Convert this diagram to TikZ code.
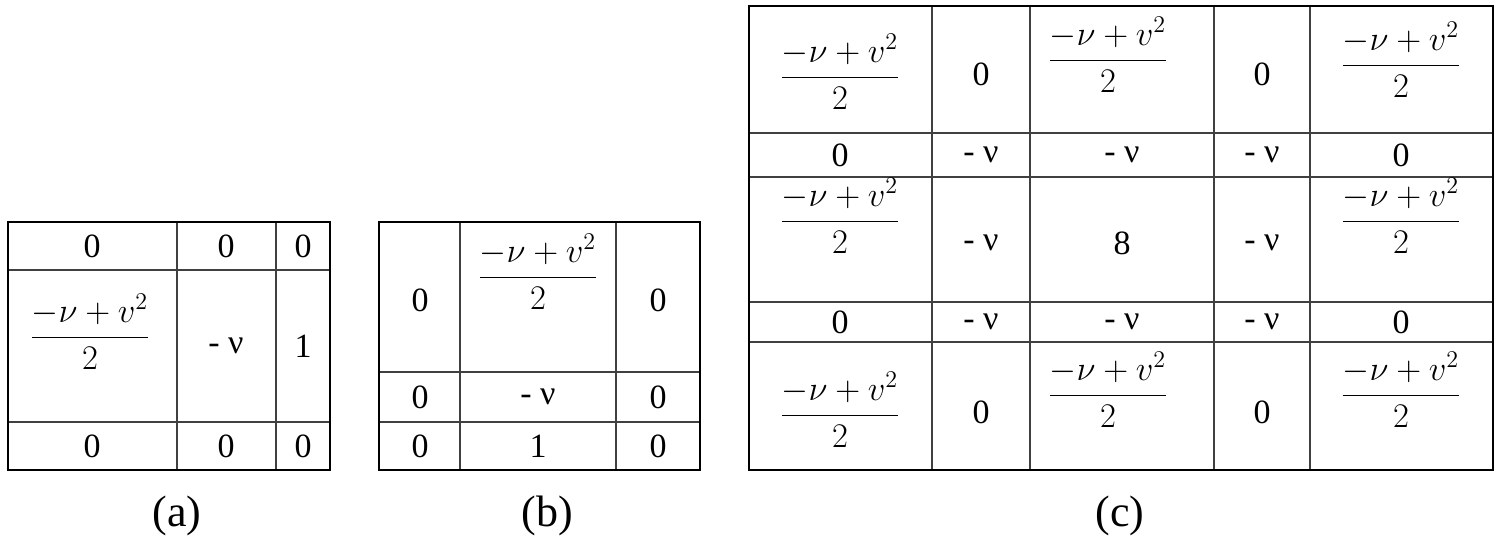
\documentclass[tikz,border=0pt]{standalone}
\usepackage{amsmath}
\usepackage{fontspec}
\setmainfont{Liberation Serif}
\begin{document}
\begin{tikzpicture}[x=0.5pt,y=-0.5pt,
  cell/.style={font=\fontsize{17}{20}\selectfont,inner sep=0pt},
  captxt/.style={font=\fontsize{22}{26}\selectfont,inner sep=0pt},
  grid/.style={draw=black!75,line width=1pt},
  frame/.style={draw=black,line width=1.3pt}]
\useasboundingbox (0,0) rectangle (1500,537);
\newcommand{\fr}{$\dfrac{-\nu+v^2}{2}$}
\newcommand{\mn}{- ν}
% (a)
\draw[grid] (8,270)--(330,270) (8,422)--(330,422) (177,222)--(177,470) (276,222)--(276,470);
\draw[frame] (8,222) rectangle (330,470);
\node[cell] (a11) at (92,246) {0};
\node[cell] (a12) at (226,246) {0};
\node[cell] (a13) at (303,246) {0};
\node[cell] (a21) at (90,332) {\fr};
\node[cell] (a22) at (226,346) {\mn};
\node[cell] (a23) at (303,346) {1};
\node[cell] (a31) at (92,446) {0};
\node[cell] (a32) at (226,446) {0};
\node[cell] (a33) at (303,446) {0};
\node[captxt] (la) at (177,516) {(a)};
% (b)
\draw[grid] (379,372)--(700,372) (379,422)--(700,422) (460,222)--(460,470) (616,222)--(616,470);
\draw[frame] (379,222) rectangle (700,470);
\node[cell] (b11) at (420,300) {0};
\node[cell] (b12) at (538,272) {\fr};
\node[cell] (b13) at (658,300) {0};
\node[cell] (b21) at (420,397) {0};
\node[cell] (b22) at (538,397) {\mn};
\node[cell] (b23) at (658,397) {0};
\node[cell] (b31) at (420,446) {0};
\node[cell] (b32) at (538,446) {1};
\node[cell] (b33) at (658,446) {0};
\node[captxt] (lb) at (547,516) {(b)};
% (c)
\draw[grid] (749,133)--(1493,133) (749,177)--(1493,177) (749,302)--(1493,302) (749,342)--(1493,342)
  (932,6)--(932,470) (1030,6)--(1030,470) (1214,6)--(1214,470) (1310,6)--(1310,470);
\draw[frame] (749,6) rectangle (1493,470);
\node[cell] (c11) at (840,72) {\fr};
\node[cell] (c12) at (981,74) {0};
\node[cell] (c13) at (1108,55) {\fr};
\node[cell] (c14) at (1262,74) {0};
\node[cell] (c15) at (1401,60) {\fr};
\node[cell] (c21) at (840,155) {0};
\node[cell] (c22) at (981,155) {\mn};
\node[cell] (c23) at (1122,155) {\mn};
\node[cell] (c24) at (1262,155) {\mn};
\node[cell] (c25) at (1401,155) {0};
\node[cell] (c31) at (840,216) {\fr};
\node[cell] (c32) at (981,243) {\mn};
\node[cell] (c33) at (1122,243) {8};
\node[cell] (c34) at (1262,243) {\mn};
\node[cell] (c35) at (1401,216) {\fr};
\node[cell] (c41) at (840,322) {0};
\node[cell] (c42) at (981,322) {\mn};
\node[cell] (c43) at (1122,322) {\mn};
\node[cell] (c44) at (1262,322) {\mn};
\node[cell] (c45) at (1401,322) {0};
\node[cell] (c51) at (840,410) {\fr};
\node[cell] (c52) at (981,412) {0};
\node[cell] (c53) at (1108,390) {\fr};
\node[cell] (c54) at (1262,412) {0};
\node[cell] (c55) at (1401,390) {\fr};
\node[captxt] (lc) at (1120,516) {(c)};
\end{tikzpicture}
\end{document}
